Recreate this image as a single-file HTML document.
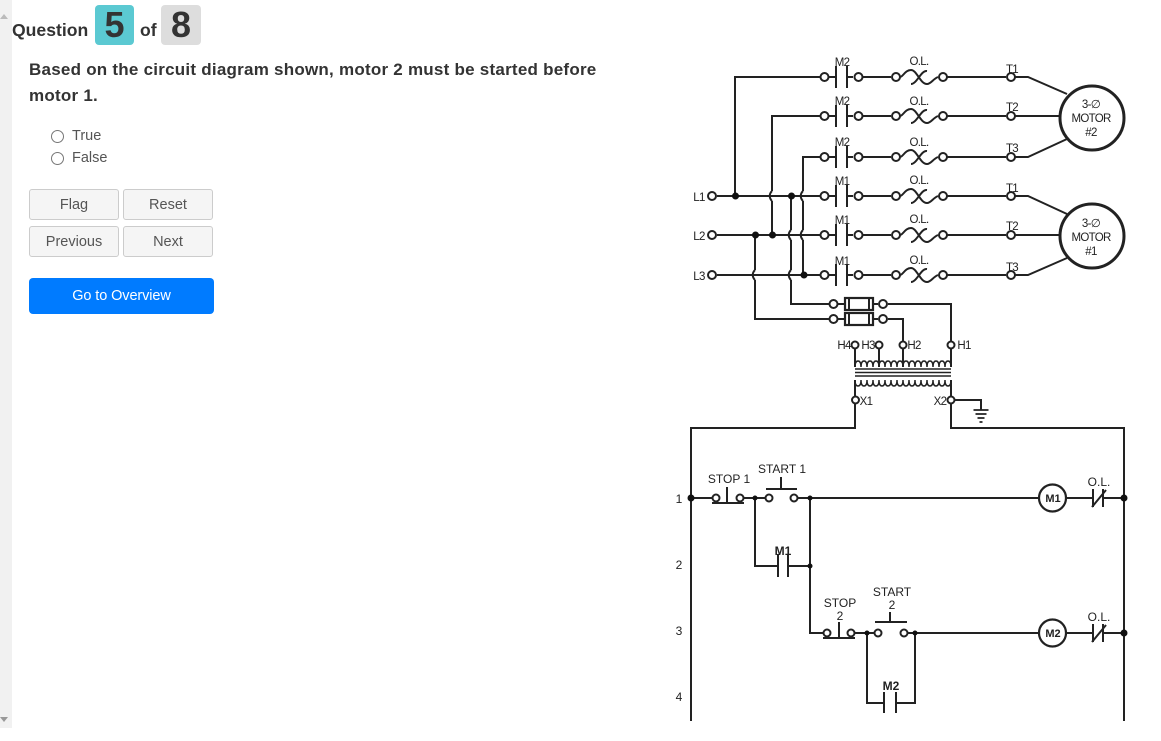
<!DOCTYPE html>
<html><head><meta charset="utf-8"><style>
html,body{margin:0;padding:0;background:#fff;width:1161px;height:741px;overflow:hidden}
body{position:relative;font-family:"Liberation Sans",sans-serif;color:#333}
.a{position:absolute;white-space:nowrap}
.b{position:absolute;box-sizing:border-box;border:1px solid #ccc;border-radius:3px;background:#f5f5f5;color:#555;font-size:14.5px;line-height:31px;text-align:center;width:90px;height:31px}
.r{position:absolute;left:51px;width:11px;height:11px;border:1px solid #777;border-radius:50%;background:#fff}
.n{position:absolute;top:5px;height:40px;border-radius:4px;text-align:center;font-size:36px;font-weight:bold;line-height:39px;color:#333}
svg{position:absolute;left:0;top:0;filter:blur(.3px)}
svg text{font-family:"Liberation Sans",sans-serif;fill:#222}
</style></head><body>
<div class="a" style="left:0;top:0;width:12px;height:728px;background:#f1f1f1"></div>
<div class="a" style="left:0;top:14px;width:0;height:0;border:4px solid transparent;border-top:0;border-bottom:5px solid #bbb"></div>
<div class="a" style="left:0;top:717px;width:0;height:0;border:4px solid transparent;border-bottom:0;border-top:5px solid #999"></div>
<div class="a" style="left:12px;top:20px;font-size:17.6px;font-weight:bold;line-height:20px">Question</div>
<div class="n" style="left:95px;width:39px;background:#5bc9d2">5</div>
<div class="a" style="left:140px;top:20px;font-size:17.6px;font-weight:bold;line-height:20px">of</div>
<div class="n" style="left:161px;width:40px;background:#ddd">8</div>
<div class="a" style="left:29px;top:57px;font-size:17px;font-weight:bold;line-height:26px;letter-spacing:.24px">Based on the circuit diagram shown, motor 2 must be started before<br>motor 1.</div>
<div class="r" style="top:130px"></div><div class="a" style="left:72px;top:127px;font-size:14.5px;line-height:18px;color:#555">True</div>
<div class="r" style="top:152px"></div><div class="a" style="left:72px;top:149px;font-size:14.5px;line-height:18px;color:#555">False</div>
<div class="b" style="left:29px;top:189px">Flag</div><div class="b" style="left:123px;top:189px">Reset</div>
<div class="b" style="left:29px;top:226px">Previous</div><div class="b" style="left:123px;top:226px">Next</div>
<div class="a" style="left:29px;top:278px;width:185px;height:36px;line-height:37px;background:#007bff;color:#fff;border-radius:4px;text-align:center;font-size:14.5px;letter-spacing:-.1px">Go to Overview</div>

<svg width="1161" height="741" viewBox="0 0 1161 741">
<defs>
<g id="row" fill="none" stroke="#222" stroke-width="2">
<path d="M829 0H836M836-11V11M847-11V11M847 0H853M863 0H891"/>
<circle cx="824.500" cy="0" r="4" fill="#fff"/><circle cx="858.500" cy="0" r="4" fill="#fff"/><circle cx="896" cy="0" r="4" fill="#fff"/>
<path d="M900 0C903 0 905-7 911-7C917-7 920 7 927 7C931 7 933 2 938 0M911 7C917 7 921-7 927-6"/>
<circle cx="943" cy="0" r="4" fill="#fff"/>
<path d="M947 0H1006"/><circle cx="1011" cy="0" r="4" fill="#fff"/>
</g>
<g id="ol" fill="none" stroke="#222" stroke-width="2"><path d="M1065 0H1093M1093-9V9M1103-9V9M1103 0H1124M1092 9L1106-8"/></g>
<g id="gr" stroke="#222" stroke-width="1.8"><path d="M-7.500 0H7.500M-5.500 4H5.500M-3.500 8H3.500M-1.500 12H1.500"/></g>
</defs>
<use href="#row" y="77"/><use href="#row" y="116"/><use href="#row" y="157"/><use href="#row" y="196"/><use href="#row" y="235"/><use href="#row" y="275"/>

<g fill="none" stroke="#222" stroke-width="2">
<path d="M735 196V77H820M772 191V116H820M803 191V157H820"/>
<path d="M717 196H820M717 235H820M717 275H820"/>
<path d="M772 201V235M791 196V230M791 240V270M791 280V304H829M803 201V230M803 240V275M755 235V270M755 280V319H829"/>
<path d="M772 191C769 194 769 198 772 201M791 230C788 233 788 237 791 240M791 270C788 273 788 277 791 280M803 191C800 194 800 198 803 201M803 230C800 233 800 237 803 240M755 270C752 273 752 277 755 280"/>
<circle cx="712" cy="196" r="4" fill="#fff"/><circle cx="712" cy="235" r="4" fill="#fff"/><circle cx="712" cy="275" r="4" fill="#fff"/>
<path d="M1015 77H1028L1067 94M1015 116H1060M1015 157H1028L1067 139M1015 196H1028L1067 214M1015 235H1060M1015 275H1028L1067 258"/>
<circle cx="1092" cy="118" r="32" stroke-width="3"/><circle cx="1092" cy="236" r="32" stroke-width="3"/>
<!-- fuses -->
<path d="M838 304H845M873 304H878M838 319H845M873 319H878M888 304H951V341M888 319H903V341"/>
<rect x="845" y="298" width="28" height="12" stroke-width="2.200"/><rect x="845" y="313" width="28" height="12" stroke-width="2.200"/>
<path d="M849 298V310M869 298V310M849 313V325M869 313V325"/>
<circle cx="833.500" cy="304" r="4"/><circle cx="883" cy="304" r="4"/><circle cx="833.500" cy="319" r="4"/><circle cx="883" cy="319" r="4"/>
<!-- transformer -->
<circle cx="855" cy="345" r="3.500"/><circle cx="879" cy="345" r="3.500"/><circle cx="903" cy="345" r="3.500"/><circle cx="951" cy="345" r="3.500"/>
<path d="M855 349V367M879 349V367M903 349V367M951 349V367"/>
<path d="M855 367q0-6 3-6t3 6q0-6 3-6t3 6q0-6 3-6t3 6q0-6 3-6t3 6q0-6 3-6t3 6q0-6 3-6t3 6q0-6 3-6t3 6q0-6 3-6t3 6q0-6 3-6t3 6q0-6 3-6t3 6q0-6 3-6t3 6q0-6 3-6t3 6q0-6 3-6t3 6q0-6 3-6t3 6q0-6 3-6t3 6q0-6 3-6t3 6" stroke-width="1.500"/>
<path d="M855 369H951M855 372.500H951M855 376H951" stroke-width="1.500"/>
<path d="M855 380q0 6 3 6t3-6q0 6 3 6t3-6q0 6 3 6t3-6q0 6 3 6t3-6q0 6 3 6t3-6q0 6 3 6t3-6q0 6 3 6t3-6q0 6 3 6t3-6q0 6 3 6t3-6q0 6 3 6t3-6q0 6 3 6t3-6q0 6 3 6t3-6q0 6 3 6t3-6q0 6 3 6t3-6q0 6 3 6t3-6q0 6 3 6t3-6" stroke-width="1.500"/>
<path d="M855 380V396M951 380V396M855 404V428H691V721M951 404V428H1124V721M955 400H981V410"/>
<circle cx="855.500" cy="400" r="3.500"/><circle cx="951" cy="400" r="3.500"/>
<!-- rung 1 -->
<path d="M691 498H712M744 498H765M798 498H1039M712 503H744M727 487V503M766 489H797M781 477V489M755 498V566H778M778 554V577M788 554V577M788 566H810M810 498V633H823"/>
<circle cx="716" cy="498" r="3.500" fill="#fff"/><circle cx="740" cy="498" r="3.500" fill="#fff"/><circle cx="769" cy="498" r="3.500" fill="#fff"/><circle cx="794" cy="498" r="3.500" fill="#fff"/>
<!-- rung 3 -->
<path d="M855 633H874M908 633H1039M823 638H855M839 622V638M875 622H907M890 612V622M867 633V703H884M884 692V713M896 692V713M896 703H915V633"/>
<circle cx="827" cy="633" r="3.500" fill="#fff"/><circle cx="851" cy="633" r="3.500" fill="#fff"/><circle cx="878" cy="633" r="3.500" fill="#fff"/><circle cx="904" cy="633" r="3.500" fill="#fff"/>
<circle cx="1052.500" cy="498" r="13.500" stroke-width="2.200"/><circle cx="1052.500" cy="633" r="13.500" stroke-width="2.200"/>
</g>
<use href="#ol" y="498"/><use href="#ol" y="633"/>
<use href="#gr" x="981" y="410"/>
<g fill="#111"><circle cx="735.500" cy="196" r="3.500"/><circle cx="791.500" cy="196" r="3.500"/><circle cx="755.500" cy="235" r="3.500"/><circle cx="772.500" cy="235" r="3.500"/><circle cx="804" cy="275" r="3.500"/><circle cx="691" cy="498" r="3.500"/><circle cx="1124" cy="498" r="3.500"/><circle cx="1124" cy="633" r="3.500"/><circle cx="755" cy="498" r="2.500"/><circle cx="810" cy="498" r="2.500"/><circle cx="810" cy="566" r="2.500"/><circle cx="867" cy="633" r="2.500"/><circle cx="915" cy="633" r="2.500"/></g>

<g font-size="11.500" text-anchor="middle" letter-spacing="-.7">
<text x="842" y="66">M2</text><text x="842" y="105">M2</text><text x="842" y="146">M2</text><text x="842" y="185">M1</text><text x="842" y="224">M1</text><text x="842" y="265">M1</text>
<text x="919" y="65">O.L.</text><text x="919" y="105">O.L.</text><text x="919" y="146">O.L.</text><text x="919" y="184">O.L.</text><text x="919" y="223">O.L.</text><text x="919" y="264">O.L.</text>
<text x="1012" y="73">T1</text><text x="1012" y="111">T2</text><text x="1012" y="152">T3</text><text x="1012" y="192">T1</text><text x="1012" y="230">T2</text><text x="1012" y="271">T3</text>
<text x="699" y="201">L1</text><text x="699" y="240">L2</text><text x="699" y="280">L3</text>
<text x="1091" y="108">3-∅</text><text x="1091" y="122">MOTOR</text><text x="1091" y="136">#2</text>
<text x="1091" y="227">3-∅</text><text x="1091" y="241">MOTOR</text><text x="1091" y="255">#1</text>
<text x="844" y="349">H4</text><text x="868" y="349">H3</text><text x="914" y="349">H2</text><text x="964" y="349">H1</text>
<text x="866" y="405">X1</text><text x="940" y="405">X2</text>
</g>
<g font-size="12" text-anchor="middle">
<text x="729" y="483">STOP 1</text><text x="782" y="473">START 1</text>
<text x="783" y="555" font-weight="bold">M1</text><text x="1099" y="486">O.L.</text><text x="1099" y="621">O.L.</text>
<text x="840" y="607">STOP</text><text x="840" y="620">2</text><text x="892" y="596">START</text><text x="892" y="609">2</text>
<text x="891" y="690" font-weight="bold">M2</text><text x="1053" y="502" font-size="11" font-weight="bold">M1</text><text x="1053" y="637" font-size="11" font-weight="bold">M2</text>
<text x="679" y="503">1</text><text x="679" y="569">2</text><text x="679" y="635">3</text><text x="679" y="701">4</text>
</g>
</svg>
</body></html>
